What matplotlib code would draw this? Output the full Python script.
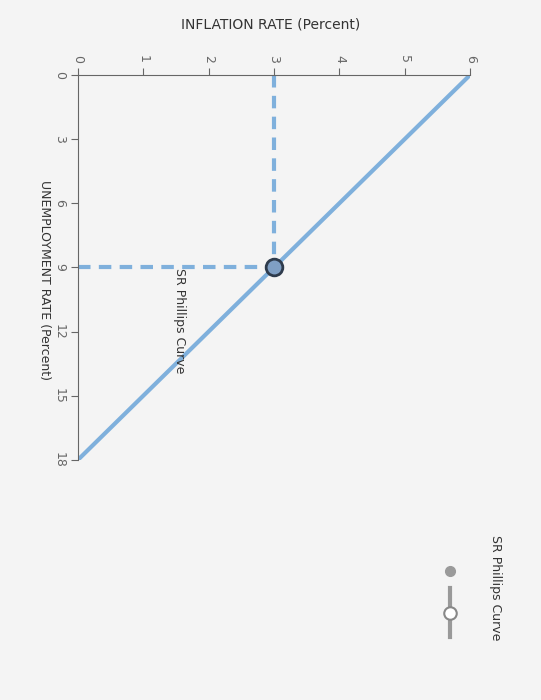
import matplotlib
matplotlib.use("Agg")
import matplotlib.pyplot as plt
from matplotlib.lines import Line2D

unemployment = [0, 18]
inflation = [6, 0]
point_u, point_i = 9, 3
u_ticks = [0, 3, 6, 9, 12, 15, 18]
i_ticks = [0, 1, 2, 3, 4, 5, 6]

fig = plt.figure(figsize=(5.41, 7), dpi=100)
fig.patch.set_facecolor("#f4f4f4")
ax = fig.add_axes([0.144, 0.343, 0.725, 0.55])
ax.set_facecolor("#f4f4f4")
blue = "#7fb0dc"
# screen x = inflation, screen y = unemployment (rotated chart)
ax.plot(inflation, unemployment, color=blue, lw=3, zorder=2)
ax.plot([point_i, point_i], [0, point_u], color=blue, lw=3, ls=(0, (3, 2)), zorder=2)
ax.plot([0, point_i], [point_u, point_u], color=blue, lw=3, ls=(0, (3, 2)), zorder=2)
ax.plot([point_i], [point_u], "o", ms=12, mfc="#7f9fc4", mec="#2e3b4c", mew=2, zorder=3)
ax.set_xlim(0, 6)
ax.set_ylim(18, 0)
ax.xaxis.tick_top()
ax.set_xticks(i_ticks)
ax.set_yticks(u_ticks)
ax.set_xticklabels([str(t) for t in i_ticks], rotation=-90, color="#555", fontsize=9)
ax.set_yticklabels([str(t) for t in u_ticks], rotation=-90, color="#555", fontsize=9, va="center")
for s in ["right", "bottom"]:
    ax.spines[s].set_visible(False)
for s in ["top", "left"]:
    ax.spines[s].set_color("#666")
ax.tick_params(colors="#666", length=5)
fig.text(0.5, 0.965, "INFLATION RATE (Percent)", ha="center", va="center", fontsize=10, color="#333")
fig.text(0.083, 0.6, "UNEMPLOYMENT RATE (Percent)", rotation=-90, ha="center", va="center", fontsize=9, color="#333")
ax.text(1.55, 11.5, "SR Phillips Curve", rotation=-90, ha="center", va="center", fontsize=9, color="#333")
# legend area
fig.text(0.915, 0.16, "SR Phillips Curve", rotation=-90, ha="center", va="center", fontsize=9, color="#333")
fig.add_artist(Line2D([0.832, 0.832], [0.09, 0.16], color="#999", lw=3))
fig.add_artist(Line2D([0.832], [0.125], marker="o", ms=9, mfc="white", mec="#888", mew=1.5))
fig.add_artist(Line2D([0.832], [0.185], marker="o", ms=7, mfc="#9a9a9a", mec="#9a9a9a"))
fig.savefig("out.png", dpi=100, facecolor=fig.get_facecolor())
